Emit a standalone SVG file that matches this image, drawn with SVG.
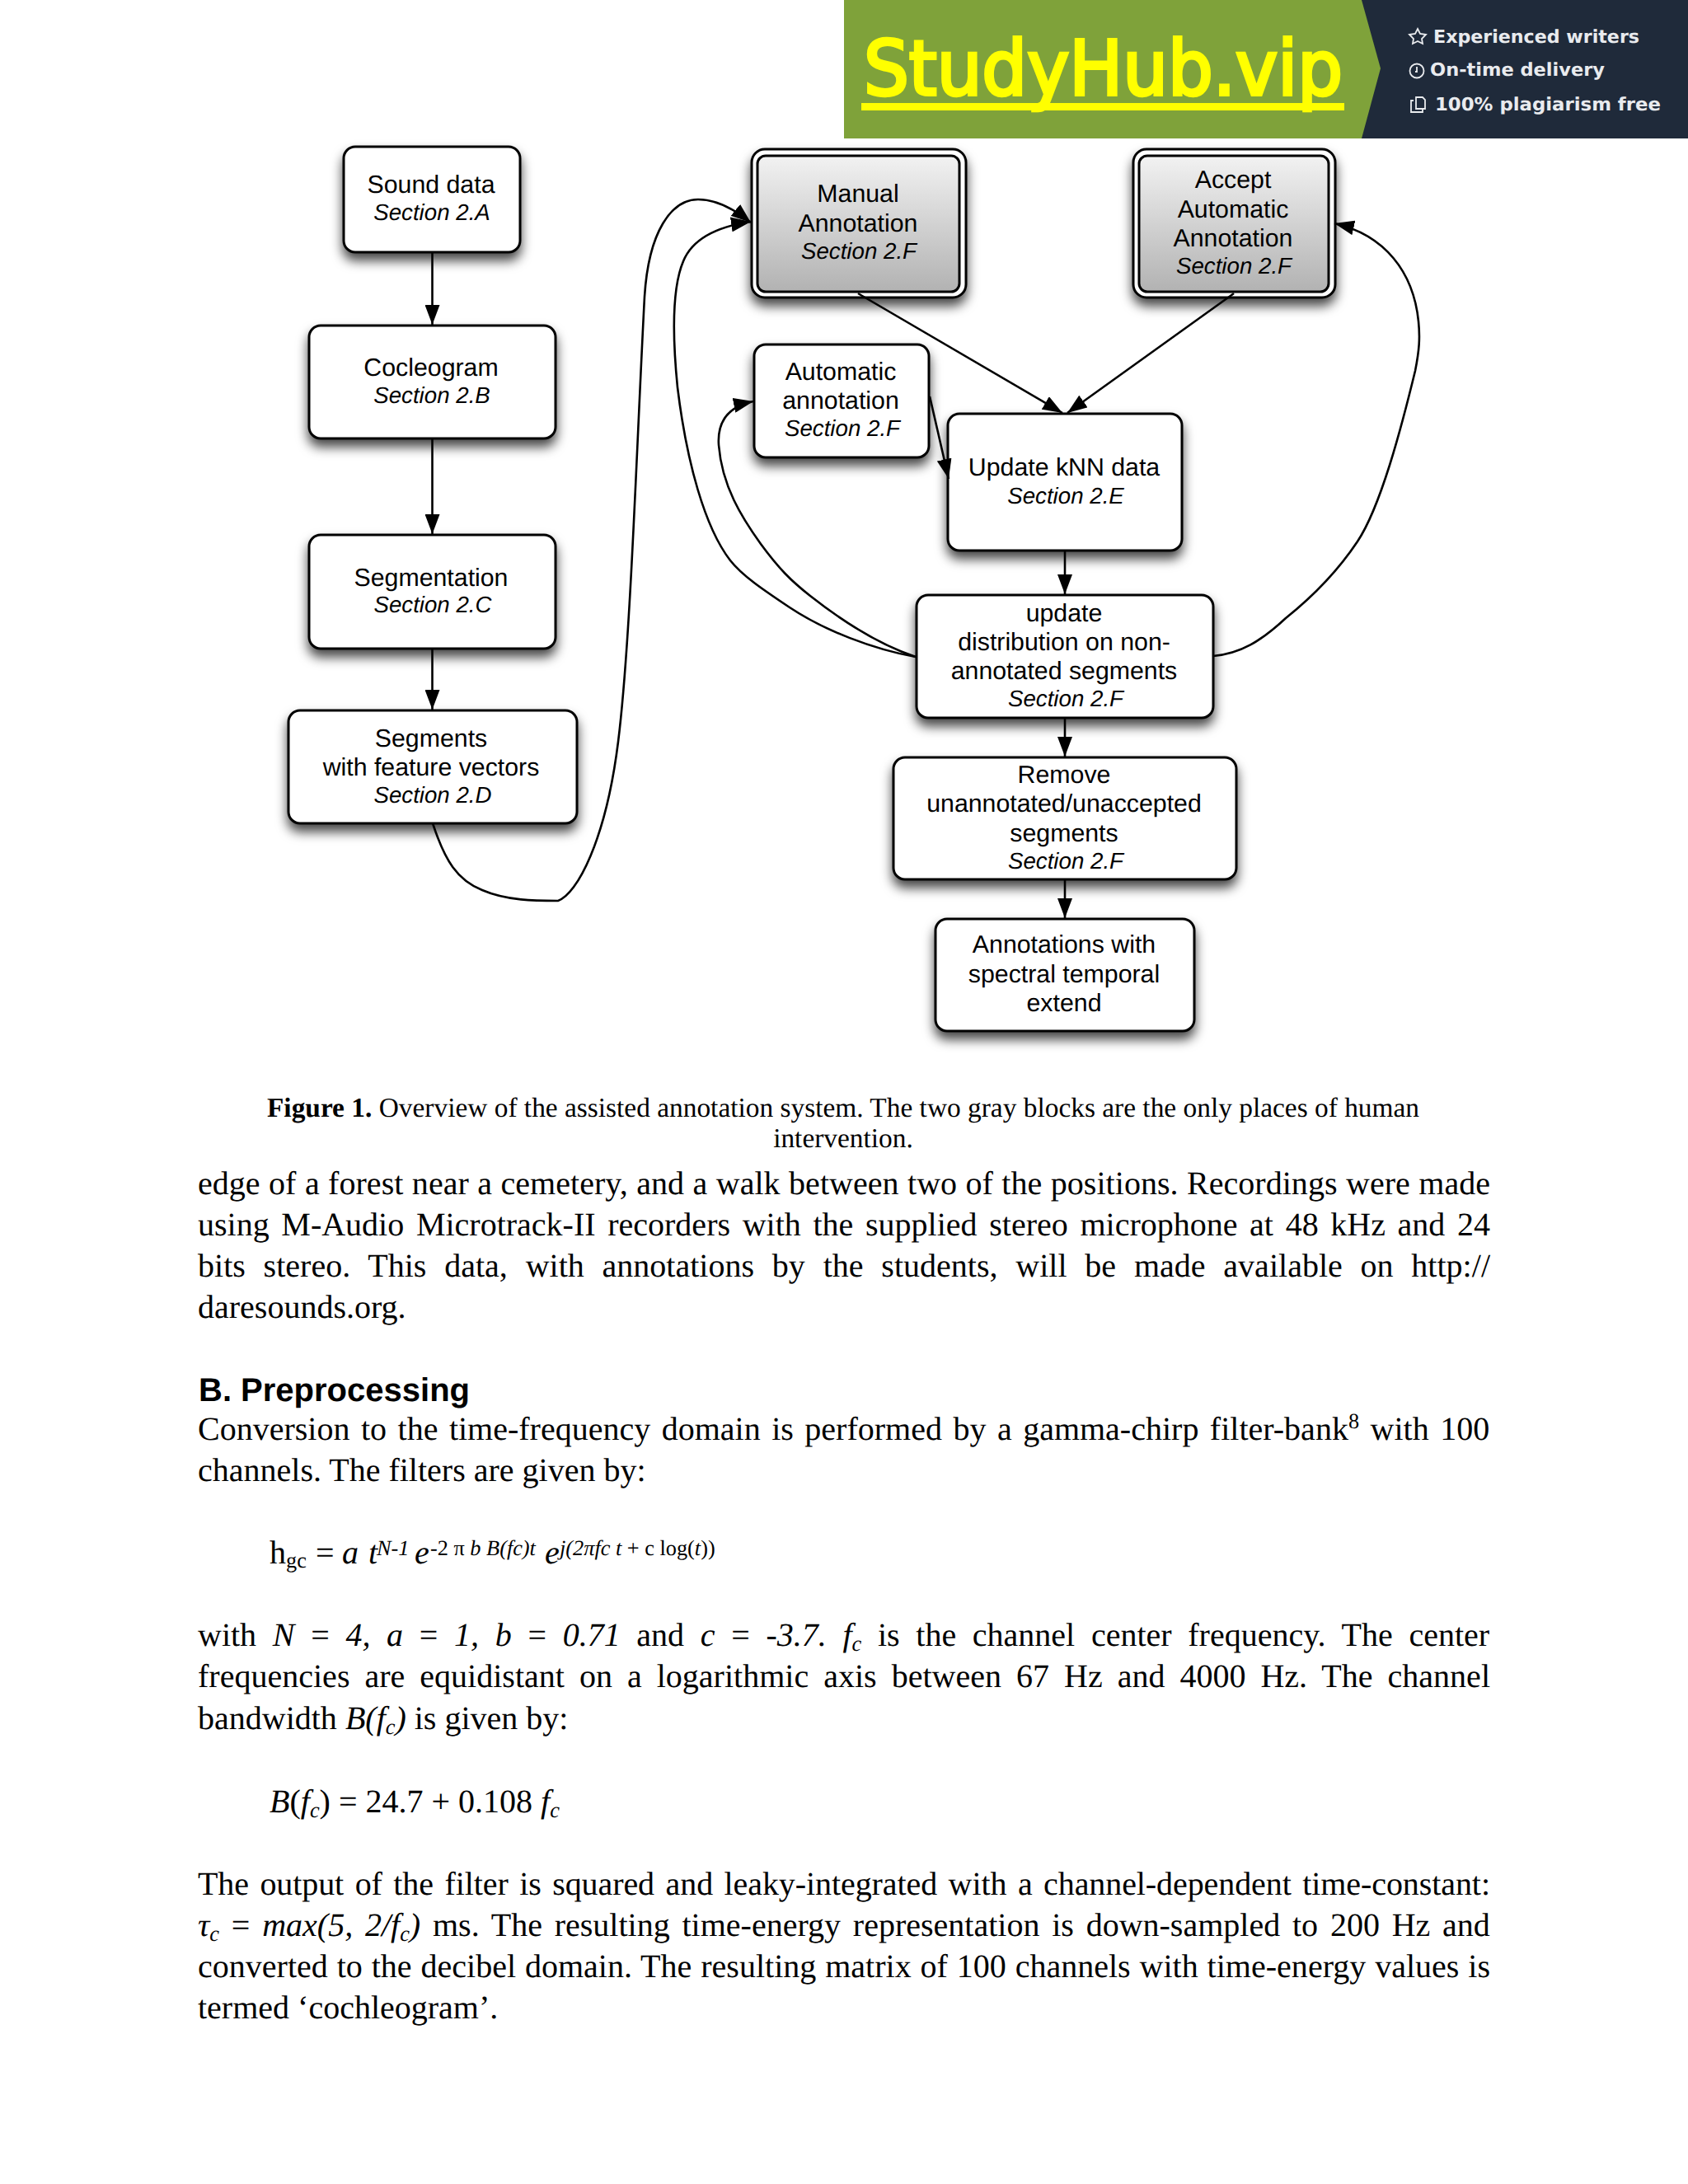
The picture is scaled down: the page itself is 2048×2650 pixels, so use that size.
<svg xmlns="http://www.w3.org/2000/svg" width="2048" height="2650" viewBox="0 0 2048 2650">
<style>
text{text-rendering:geometricPrecision;fill:#000}
.n{font-family:"Liberation Sans",Arial,sans-serif;font-size:30.3px;text-anchor:middle}
.s{font-family:"Liberation Sans",Arial,sans-serif;font-size:27.7px;font-style:italic;text-anchor:middle}
.b{font-family:"Liberation Serif","Times New Roman",serif;font-size:40px}
.c{font-family:"Liberation Serif","Times New Roman",serif;font-size:33.4px;text-anchor:middle}
.i{font-style:italic}
.sm{font-size:26.3px}
.box{fill:#fff;stroke:#000;stroke-width:3;filter:url(#sh)}
.inner{fill:url(#gr);stroke:#000;stroke-width:3}
.line{fill:none;stroke:#000;stroke-width:2.6}
.arr{marker-end:url(#ah)}
.ban{font-family:"DejaVu Sans",sans-serif;font-weight:700;font-size:22px;fill:#e9ebee}
.ic{fill:none;stroke:#e9ebee;stroke-width:1.8}
</style>
<defs>
<filter id="sh" x="-20%" y="-20%" width="140%" height="150%"><feDropShadow dx="0" dy="9" stdDeviation="7" flood-color="#000" flood-opacity=".72"/></filter>
<linearGradient id="gr" x1="0" y1="0" x2="0" y2="1"><stop offset="0" stop-color="#f2f2f2"/><stop offset="1" stop-color="#b2b2b2"/></linearGradient>
<marker id="ah" markerUnits="userSpaceOnUse" markerWidth="24" markerHeight="18" viewBox="0 0 24 18" refX="24" refY="9" orient="auto"><polygon points="0,0 24,9 0,18" fill="#000"/></marker>
</defs>
<rect width="2048" height="2650" fill="#fff"/>
<g id="banner">
<rect x="1024" y="0" width="1024" height="168" fill="#1f2a3a"/>
<polygon points="1024,0 1652,0 1675,83 1652,168 1024,168" fill="#7fa23a"/>
<text x="1048" y="115" font-family="'DejaVu Sans',sans-serif" font-size="92" textLength="581" lengthAdjust="spacingAndGlyphs" style="fill:#ffff00;stroke:#ffff00;stroke-width:4">StudyHub.vip</text>
<rect x="1045" y="125" width="586" height="9" fill="#ffff00"/>
<polygon class="ic" points="1720,35 1723,41 1730,42 1725,47 1726,53 1720,50 1714,53 1715,47 1710,42 1717,41"/>
<text class="ban" x="1739" y="52" textLength="250" lengthAdjust="spacingAndGlyphs">Experienced writers</text>
<circle class="ic" cx="1719" cy="86" r="8.5"/><path class="ic" d="M1719,81v6h-2"/>
<text class="ban" x="1735" y="92" textLength="212" lengthAdjust="spacingAndGlyphs">On-time delivery</text>
<path class="ic" d="M1715,122h-3v14h14v-3M1718,118h8l3,3v11h-11z"/>
<text class="ban" x="1741" y="134" textLength="274" lengthAdjust="spacingAndGlyphs">100% plagiarism free</text>
</g>
<g id="node-sound"><rect class="box" x="417" y="178" width="214" height="128" rx="14"/><text class="n" x="523" y="234">Sound data</text><text class="s" x="524" y="267">Section 2.A</text></g>
<g id="node-cocleogram"><rect class="box" x="375" y="395" width="299" height="137" rx="14"/><text class="n" x="523" y="456">Cocleogram</text><text class="s" x="524" y="489">Section 2.B</text></g>
<g id="node-segmentation"><rect class="box" x="375" y="649" width="299" height="138" rx="14"/><text class="n" x="523" y="711">Segmentation</text><text class="s" x="525" y="743">Section 2.C</text></g>
<g id="node-segments"><rect class="box" x="350" y="862" width="350" height="137" rx="14"/><text class="n" x="523" y="906">Segments</text><text class="n" x="523" y="941">with feature vectors</text><text class="s" x="525" y="974">Section 2.D</text></g>
<g id="node-manual"><rect class="box" x="912" y="181" width="260" height="180" rx="16"/><rect class="inner" x="919" y="189" width="245" height="165" rx="10"/><text class="n" x="1041" y="245">Manual</text><text class="n" x="1041" y="281">Annotation</text><text class="s" x="1042" y="314">Section 2.F</text></g>
<g id="node-accept"><rect class="box" x="1375" y="181" width="245" height="180" rx="16"/><rect class="inner" x="1382" y="189" width="230" height="165" rx="10"/><text class="n" x="1496" y="228">Accept</text><text class="n" x="1496" y="264">Automatic</text><text class="n" x="1496" y="299">Annotation</text><text class="s" x="1497" y="332">Section 2.F</text></g>
<g id="node-automatic"><rect class="box" x="915" y="418" width="212" height="137" rx="14"/><text class="n" x="1020" y="461">Automatic</text><text class="n" x="1020" y="496">annotation</text><text class="s" x="1022" y="529">Section 2.F</text></g>
<g id="node-update-knn"><rect class="box" x="1150" y="502" width="284" height="166" rx="14"/><text class="n" x="1291" y="577">Update kNN data</text><text class="s" x="1293" y="611">Section 2.E</text></g>
<g id="node-distribution"><rect class="box" x="1112" y="722" width="360" height="149" rx="14"/><text class="n" x="1291" y="754">update</text><text class="n" x="1291" y="789">distribution on non-</text><text class="n" x="1291" y="824">annotated segments</text><text class="s" x="1293" y="857">Section 2.F</text></g>
<g id="node-remove"><rect class="box" x="1084" y="919" width="416" height="148" rx="14"/><text class="n" x="1291" y="950">Remove</text><text class="n" x="1291" y="985">unannotated/unaccepted</text><text class="n" x="1291" y="1021">segments</text><text class="s" x="1293" y="1054">Section 2.F</text></g>
<g id="node-annotations"><rect class="box" x="1135" y="1115" width="314" height="136" rx="14"/><text class="n" x="1291" y="1156">Annotations with</text><text class="n" x="1291" y="1192">spectral temporal</text><text class="n" x="1291" y="1227">extend</text></g>
<g id="connectors">
<path class="line arr" d="M524.5,306V394"/>
<path class="line arr" d="M524.5,532V648"/>
<path class="line arr" d="M524.5,787V861"/>
<path class="line arr" d="M525,999C540,1045 555,1068 585,1080C615,1093 650,1093 677,1093C700,1085 735,1020 750,900C765,780 772,550 782,360C787,280 815,242 847,242C872,242 895,257 911,270"/>
<path class="line arr" d="M1111,797C1060,788 1000,765 958,737C925,715 900,698 886,680C855,640 833,560 822,470C816,410 815,350 829,317C840,290 870,275 911,269"/>
<path class="line arr" d="M1111,797C1075,785 1030,760 983,723C960,705 945,690 923,660C900,628 876,590 872,540C870,510 885,493 914,487"/>
<path class="line arr" d="M1472,796C1505,793 1530,778 1560,750C1595,722 1625,690 1647,657C1675,615 1700,520 1717,450C1722,425 1723,410 1721,390C1715,330 1680,285 1619,271"/>
<path class="line arr" d="M1041,356L1289,501"/>
<path class="line arr" d="M1497,356L1295,501"/>
<path class="line arr" d="M1128,481L1151,581"/>
<path class="line arr" d="M1292,668V721"/>
<path class="line arr" d="M1292,871V918"/>
<path class="line arr" d="M1292,1067V1114"/>
</g>
<g id="caption">
<text class="c" x="1023" y="1355"><tspan font-weight="700">Figure 1.</tspan> Overview of the assisted annotation system. The two gray blocks are the only places of human</text>
<text class="c" x="1023" y="1392">intervention.</text>
</g>
<g id="body">
<text class="b" x="240" y="1449" textLength="1568" word-spacing="0.4">edge of a forest near a cemetery, and a walk between two of the positions. Recordings were made</text>
<text class="b" x="240" y="1499" textLength="1568" word-spacing="4.66">using M-Audio Microtrack-II recorders with the supplied stereo microphone at 48 kHz and 24</text>
<text class="b" x="240" y="1549" textLength="1568" word-spacing="11.77">bits stereo. This data, with annotations by the students, will be made available on http://</text>
<text class="b" x="240" y="1599">daresounds.org.</text>
<text x="241" y="1700" font-family="'Liberation Sans',Arial,sans-serif" font-weight="700" font-size="40">B. Preprocessing</text>
<text class="b" x="240" y="1747" word-spacing="3.49">Conversion to the time-frequency domain is performed by a gamma-chirp filter-bank<tspan class="sm" dy="-14">8</tspan><tspan dy="14"> with 100</tspan></text>
<text class="b" x="240" y="1797">channels. The filters are given by:</text>
<text class="b" x="327" y="1897">h</text><text class="b sm" x="347" y="1902">gc</text><text class="b" x="383" y="1897">=</text><text class="b i" x="415" y="1897">a</text><text class="b i" x="447" y="1897">t</text>
<text class="b i sm" x="457" y="1887">N-1</text><text class="b i" x="503" y="1897">e</text>
<text class="b sm" x="522" y="1887">-2 π <tspan class="i">b B(fc)t</tspan></text><text class="b i" x="661" y="1897">e</text>
<text class="b sm" x="679" y="1887"><tspan class="i">j(2πfc t</tspan> + c log(<tspan class="i">t</tspan>))</text>
<text class="b" x="240" y="1997" word-spacing="9.68">with <tspan class="i">N</tspan> = <tspan class="i">4,</tspan> <tspan class="i">a</tspan> = <tspan class="i">1,</tspan> <tspan class="i">b</tspan> = <tspan class="i">0.71</tspan> and <tspan class="i">c</tspan> = <tspan class="i">-3.7.</tspan> <tspan class="i">f</tspan><tspan class="i sm" dy="6">c</tspan><tspan dy="-6"> is the channel center frequency. The center</tspan></text>
<text class="b" x="240" y="2047" textLength="1568" word-spacing="7.98">frequencies are equidistant on a logarithmic axis between 67 Hz and 4000 Hz. The channel</text>
<text class="b" x="240" y="2098">bandwidth <tspan class="i">B(f</tspan><tspan class="i sm" dy="6">c</tspan><tspan class="i" dy="-6">)</tspan> is given by:</text>
<text class="b" x="327" y="2199"><tspan class="i">B</tspan>(<tspan class="i">f</tspan><tspan class="i sm" dy="6">c</tspan><tspan dy="-6">) = 24.7 + 0.108 </tspan><tspan class="i">f</tspan><tspan class="i sm" dy="6">c</tspan></text>
<text class="b" x="240" y="2299" textLength="1568" word-spacing="3.58">The output of the filter is squared and leaky-integrated with a channel-dependent time-constant:</text>
<text class="b" x="240" y="2349" word-spacing="4.8"><tspan class="i">τ</tspan><tspan class="i sm" dy="6">c</tspan><tspan dy="-6"> = </tspan><tspan class="i">max(5, 2/f</tspan><tspan class="i sm" dy="6">c</tspan><tspan class="i" dy="-6">)</tspan> ms. The resulting time-energy representation is down-sampled to 200 Hz and</text>
<text class="b" x="240" y="2399" textLength="1568" word-spacing="0.83">converted to the decibel domain. The resulting matrix of 100 channels with time-energy values is</text>
<text class="b" x="240" y="2449">termed ‘cochleogram’.</text>
</g>
</svg>
